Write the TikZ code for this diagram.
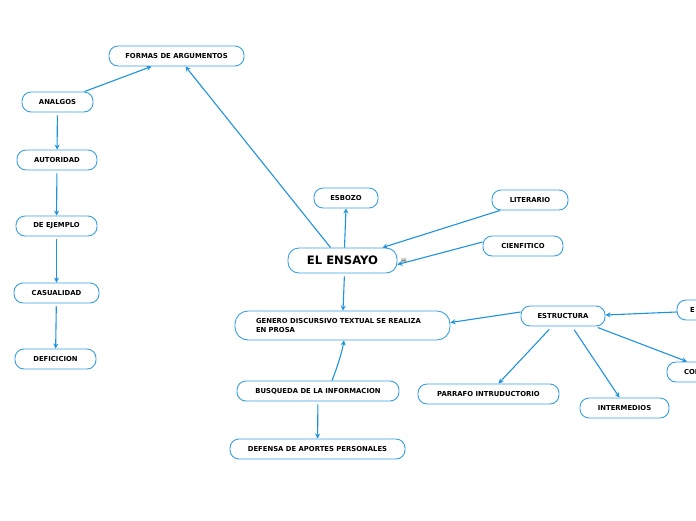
\documentclass[tikz,border=0pt]{standalone}
\usepackage{fontspec}
\setmainfont{DejaVu Sans}
\usetikzlibrary{arrows.meta}
\definecolor{bord}{HTML}{3A9FE3}
\definecolor{edge}{HTML}{1E93DD}
\tikzset{
  box/.style={draw=bord, line width=0.9pt, rounded corners=9pt, fill=white,
    minimum height=20pt, inner sep=2pt, font=\fontsize{6.85}{8.6}\selectfont\bfseries},
  link/.style={draw=edge, line width=1.1pt, -{Stealth[length=5pt,width=5pt]}},
}
\begin{document}
\begin{tikzpicture}[x=1pt,y=-1pt]
\useasboundingbox (0,0) rectangle (696,520);
\begin{scope}
\clip (0,0) rectangle (696,520);
\node[box, minimum width=135pt] (formas) at (176.5,56) {FORMAS DE ARGUMENTOS};
\node[box, minimum width=71pt] (analgos) at (57.5,102) {ANALGOS};
\node[box, minimum width=80pt] (autoridad) at (57,160) {AUTORIDAD};
\node[box, minimum width=81pt] (ejemplo) at (56.5,226) {DE EJEMPLO};
\node[box, minimum width=85pt] (casualidad) at (56.5,293) {CASUALIDAD};
\node[box, minimum width=81pt] (deficicion) at (55.5,359) {DEFICICION};
\node[box, minimum width=64pt] (esbozo) at (346,198) {ESBOZO};
\node[box, minimum width=109pt, minimum height=25pt, rounded corners=11pt, font=\fontsize{11.6}{13}\selectfont\bfseries] (ensayo) at (342.5,260.5) {EL ENSAYO};
\node[text=black!65, font=\fontsize{8}{9}\selectfont] (menu) at (404,261) {≡};
\node[box, minimum width=76pt] (literario) at (530,200) {LITERARIO};
\node[box, minimum width=80pt] (cienfitico) at (523,246) {CIENFITICO};
\node[box, minimum width=215pt, minimum height=29pt, rounded corners=13pt, text width=173pt, align=left] (genero) at (342.5,325.5) {GENERO DISCURSIVO TEXTUAL SE REALIZA\\EN PROSA};
\node[box, minimum width=84pt] (estructura) at (563,316) {ESTRUCTURA};
\node[box, minimum width=162pt] (busqueda) at (318,391) {BUSQUEDA DE LA INFORMACION};
\node[box, minimum width=175pt] (defensa) at (317.5,449) {DEFENSA DE APORTES PERSONALES};
\node[box, minimum width=141pt] (parrafo) at (488.5,394) {PARRAFO INTRUDUCTORIO};
\node[box, minimum width=89pt] (intermedios) at (624.5,408) {INTERMEDIOS};
\node[box, minimum width=80pt, text width=54pt, align=left] (epart) at (717,310) {E};
\node[box, minimum width=90pt, text width=56pt, align=left] (copart) at (712,372) {CON};

\draw[link] (analgos.north east) ++(-9,0) -- ([xshift=-25pt]formas.south);
\draw[link] ([xshift=-12pt]ensayo.north) -- ([xshift=9pt]formas.south);
\draw[link, shorten <=3pt] (analgos) -- (autoridad);
\draw[link, shorten <=3pt] (autoridad) -- (ejemplo);
\draw[link, shorten <=3pt] (ejemplo) -- (casualidad);
\draw[link, shorten <=3pt] (casualidad) -- (deficicion);
\draw[link] ([xshift=2pt]ensayo.north) -- (esbozo.south);
\draw[link] ([xshift=-30pt]literario.south) -- ([xshift=40pt]ensayo.north);
\draw[link] ([yshift=4pt]cienfitico.west) -- ([yshift=-4pt]ensayo.east);
\draw[link, shorten <=3pt] ([xshift=2pt]ensayo.south) -- ([xshift=0.5pt]genero.north);
\draw[link] ([yshift=4pt]estructura.west) -- ([yshift=3pt]genero.east);
\draw[link] ([xshift=14pt]busqueda.north) .. controls (337,368) and (342,352) .. ([xshift=1.5pt]genero.south);
\draw[link, shorten <=3pt] (busqueda) -- (defensa);
\draw[link] ([yshift=-2pt]epart.west) -- ([yshift=1pt]estructura.east);
\draw[link, shorten <=3pt] ([xshift=32pt]estructura.south) -- ([xshift=-25pt]copart.north);
\draw[link, shorten <=4pt] ([xshift=-11pt]estructura.south) -- ([xshift=10pt]parrafo.north);
\draw[link, shorten <=4pt] ([xshift=9pt]estructura.south) -- ([xshift=-5pt]intermedios.north);
\end{scope}
\end{tikzpicture}
\end{document}
